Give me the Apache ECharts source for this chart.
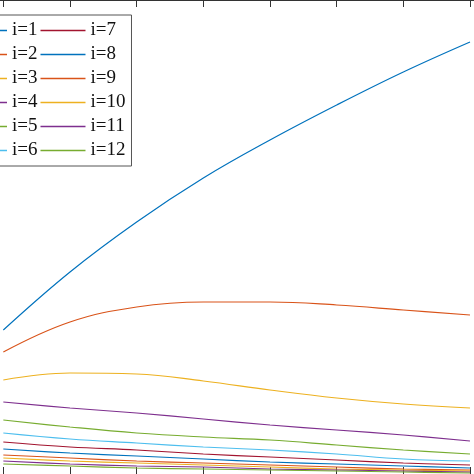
<!DOCTYPE html>
<html>
<head>
<meta charset="utf-8">
<script src="https://cdn.jsdelivr.net/npm/echarts@6/dist/echarts.min.js"></script>
<style>html,body{margin:0;padding:0;background:#fff}#chart{width:474px;height:474px}</style>
</head>
<body>
<div id="chart"></div>
<script>
// x positions (axis units), curves
var xs = [1, 2, 3, 4, 5, 6, 7, 8];
var tickVals = [1, 2, 3, 4, 5, 6, 7, 8];
var names = ['i=1','i=2','i=3','i=4','i=5','i=6','i=7','i=8','i=9','i=10','i=11','i=12'];
var colors = ['#0072BD','#D95319','#EDB120','#7E2F8E','#77AC30','#4DBEEE','#A2142F',
              '#0072BD','#D95319','#EDB120','#7E2F8E','#77AC30'];
var vals = [
  [144, 202, 252, 296, 334, 369, 402, 432],
  [122, 152, 167, 172, 172, 169, 164, 159],
  [94, 101, 100, 93, 84, 76, 70, 66],
  [72, 66, 61, 55, 49, 44, 39, 33],
  [54, 47, 41, 37, 34, 29, 24, 20],
  [41, 35, 31, 27, 24, 20, 15, 13],
  [32, 27, 24, 20, 17, 14, 11, 9],
  [25, 21, 18, 15, 12, 10, 8, 6],
  [19, 16, 13, 11, 9, 7, 5, 4],
  [16, 13, 11, 9, 7, 5, 4, 3],
  [13, 10, 8, 7, 5, 4, 3, 2],
  [10, 8, 6, 5, 4, 3, 2, 1]
];

var series = names.map(function (n, k) {
  return {
    name: n, type: 'line', smooth: 0.4, showSymbol: false,
    lineStyle: { width: 1.2, color: colors[k] }, itemStyle: { color: colors[k] },
    data: xs.map(function (x, j) { return [x, vals[k][j]]; })
  };
});

function xAxisDef(pos) {
  return {
    type: 'value', min: 0.95, max: 8.06, position: pos,
    axisLine: { show: true, onZero: false, lineStyle: { color: '#333' } },
    axisTick: { inside: true, length: 7, customValues: tickVals, lineStyle: { color: '#333' } },
    axisLabel: { show: false }, splitLine: { show: false }
  };
}

var chart = echarts.init(document.getElementById('chart'));
chart.setOption({
  animation: false,
  grid: { left: 0, right: 0, top: 0, bottom: 0 },
  legend: {
    orient: 'vertical', left: -42, top: 15, height: 150,
    itemWidth: 45, itemHeight: 1.5, itemGap: 3,
    padding: [5, 6, 5, 4],
    borderColor: '#555', borderWidth: 1, backgroundColor: '#fff',
    icon: 'rect',
    textStyle: { fontFamily: 'Liberation Serif', fontSize: 19, lineHeight: 21, color: '#111' },
    data: names
  },
  xAxis: [xAxisDef('bottom'), xAxisDef('top')],
  yAxis: {
    type: 'value', min: 0, max: 474,
    axisLine: { show: false }, axisTick: { show: false },
    axisLabel: { show: false }, splitLine: { show: false }
  },
  series: series
});
</script>
</body>
</html>
